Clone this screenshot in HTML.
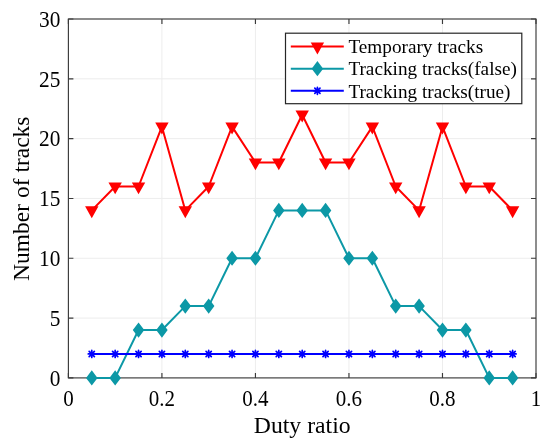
<!DOCTYPE html><html><head><meta charset="utf-8"><style>html,body{margin:0;padding:0;background:#fff;width:550px;height:444px;overflow:hidden}svg{display:block}text{font-family:"Liberation Serif","Times New Roman",serif;fill:#000}</style></head><body>
<svg width="550" height="444" viewBox="0 0 550 444">
<rect width="550" height="444" fill="#fff"/>
<path d="M161.92 19V377.9M255.44 19V377.9M348.96 19V377.9M442.48 19V377.9M68.4 318.08H536M68.4 258.27H536M68.4 198.45H536M68.4 138.63H536M68.4 78.82H536" stroke="#ededed" stroke-width="1" fill="none"/>
<path d="M68.4 377.9v-5M68.4 19v5M161.92 377.9v-5M161.92 19v5M255.44 377.9v-5M255.44 19v5M348.96 377.9v-5M348.96 19v5M442.48 377.9v-5M442.48 19v5M536 377.9v-5M536 19v5M68.4 377.9h5M536 377.9h-5M68.4 318.08h5M536 318.08h-5M68.4 258.27h5M536 258.27h-5M68.4 198.45h5M536 198.45h-5M68.4 138.63h5M536 138.63h-5M68.4 78.82h5M536 78.82h-5M68.4 19h5M536 19h-5" stroke="#3a3a3a" stroke-width="1.15" fill="none"/>
<rect x="68.4" y="19" width="467.6" height="358.9" fill="none" stroke="#3a3a3a" stroke-width="1.15"/>
<polyline points="91.78,377.9 115.16,377.9 138.54,330.05 161.92,330.05 185.3,306.12 208.68,306.12 232.06,258.27 255.44,258.27 278.82,210.41 302.2,210.41 325.58,210.41 348.96,258.27 372.34,258.27 395.72,306.12 419.1,306.12 442.48,330.05 465.86,330.05 489.24,377.9 512.62,377.9" fill="none" stroke="#0c98a6" stroke-width="2.0" stroke-linejoin="round"/>
<polyline points="91.78,353.97 115.16,353.97 138.54,353.97 161.92,353.97 185.3,353.97 208.68,353.97 232.06,353.97 255.44,353.97 278.82,353.97 302.2,353.97 325.58,353.97 348.96,353.97 372.34,353.97 395.72,353.97 419.1,353.97 442.48,353.97 465.86,353.97 489.24,353.97 512.62,353.97" fill="none" stroke="#0000ff" stroke-width="2.0" stroke-linejoin="round"/>
<polyline points="91.78,210.41 115.16,186.49 138.54,186.49 161.92,126.67 185.3,210.41 208.68,186.49 232.06,126.67 255.44,162.56 278.82,162.56 302.2,114.71 325.58,162.56 348.96,162.56 372.34,126.67 395.72,186.49 419.1,210.41 442.48,126.67 465.86,186.49 489.24,186.49 512.62,210.41" fill="none" stroke="#ff0000" stroke-width="2.0" stroke-linejoin="round"/>
<path d="M91.78 370.3L97.53 377.9L91.78 385.5L86.03 377.9ZM115.16 370.3L120.91 377.9L115.16 385.5L109.41 377.9ZM138.54 322.45L144.29 330.05L138.54 337.65L132.79 330.05ZM161.92 322.45L167.67 330.05L161.92 337.65L156.17 330.05ZM185.3 298.52L191.05 306.12L185.3 313.72L179.55 306.12ZM208.68 298.52L214.43 306.12L208.68 313.72L202.93 306.12ZM232.06 250.67L237.81 258.27L232.06 265.87L226.31 258.27ZM255.44 250.67L261.19 258.27L255.44 265.87L249.69 258.27ZM278.82 202.81L284.57 210.41L278.82 218.01L273.07 210.41ZM302.2 202.81L307.95 210.41L302.2 218.01L296.45 210.41ZM325.58 202.81L331.33 210.41L325.58 218.01L319.83 210.41ZM348.96 250.67L354.71 258.27L348.96 265.87L343.21 258.27ZM372.34 250.67L378.09 258.27L372.34 265.87L366.59 258.27ZM395.72 298.52L401.47 306.12L395.72 313.72L389.97 306.12ZM419.1 298.52L424.85 306.12L419.1 313.72L413.35 306.12ZM442.48 322.45L448.23 330.05L442.48 337.65L436.73 330.05ZM465.86 322.45L471.61 330.05L465.86 337.65L460.11 330.05ZM489.24 370.3L494.99 377.9L489.24 385.5L483.49 377.9ZM512.62 370.3L518.37 377.9L512.62 385.5L506.87 377.9Z" fill="#0c98a6"/>
<path d="M91.78 350.47V357.47M88.28 353.97H95.28M89.18 351.37L94.38 356.57M89.18 356.57L94.38 351.37M115.16 350.47V357.47M111.66 353.97H118.66M112.56 351.37L117.76 356.57M112.56 356.57L117.76 351.37M138.54 350.47V357.47M135.04 353.97H142.04M135.94 351.37L141.14 356.57M135.94 356.57L141.14 351.37M161.92 350.47V357.47M158.42 353.97H165.42M159.32 351.37L164.52 356.57M159.32 356.57L164.52 351.37M185.3 350.47V357.47M181.8 353.97H188.8M182.7 351.37L187.9 356.57M182.7 356.57L187.9 351.37M208.68 350.47V357.47M205.18 353.97H212.18M206.08 351.37L211.28 356.57M206.08 356.57L211.28 351.37M232.06 350.47V357.47M228.56 353.97H235.56M229.46 351.37L234.66 356.57M229.46 356.57L234.66 351.37M255.44 350.47V357.47M251.94 353.97H258.94M252.84 351.37L258.04 356.57M252.84 356.57L258.04 351.37M278.82 350.47V357.47M275.32 353.97H282.32M276.22 351.37L281.42 356.57M276.22 356.57L281.42 351.37M302.2 350.47V357.47M298.7 353.97H305.7M299.6 351.37L304.8 356.57M299.6 356.57L304.8 351.37M325.58 350.47V357.47M322.08 353.97H329.08M322.98 351.37L328.18 356.57M322.98 356.57L328.18 351.37M348.96 350.47V357.47M345.46 353.97H352.46M346.36 351.37L351.56 356.57M346.36 356.57L351.56 351.37M372.34 350.47V357.47M368.84 353.97H375.84M369.74 351.37L374.94 356.57M369.74 356.57L374.94 351.37M395.72 350.47V357.47M392.22 353.97H399.22M393.12 351.37L398.32 356.57M393.12 356.57L398.32 351.37M419.1 350.47V357.47M415.6 353.97H422.6M416.5 351.37L421.7 356.57M416.5 356.57L421.7 351.37M442.48 350.47V357.47M438.98 353.97H445.98M439.88 351.37L445.08 356.57M439.88 356.57L445.08 351.37M465.86 350.47V357.47M462.36 353.97H469.36M463.26 351.37L468.46 356.57M463.26 356.57L468.46 351.37M489.24 350.47V357.47M485.74 353.97H492.74M486.64 351.37L491.84 356.57M486.64 356.57L491.84 351.37M512.62 350.47V357.47M509.12 353.97H516.12M510.02 351.37L515.22 356.57M510.02 356.57L515.22 351.37" stroke="#0000ff" stroke-width="1.7" stroke-linecap="round" fill="none"/>
<path d="M85.08 206.31H98.48L91.78 218.21ZM108.46 182.39H121.86L115.16 194.29ZM131.84 182.39H145.24L138.54 194.29ZM155.22 122.57H168.62L161.92 134.47ZM178.6 206.31H192L185.3 218.21ZM201.98 182.39H215.38L208.68 194.29ZM225.36 122.57H238.76L232.06 134.47ZM248.74 158.46H262.14L255.44 170.36ZM272.12 158.46H285.52L278.82 170.36ZM295.5 110.61H308.9L302.2 122.51ZM318.88 158.46H332.28L325.58 170.36ZM342.26 158.46H355.66L348.96 170.36ZM365.64 122.57H379.04L372.34 134.47ZM389.02 182.39H402.42L395.72 194.29ZM412.4 206.31H425.8L419.1 218.21ZM435.78 122.57H449.18L442.48 134.47ZM459.16 182.39H472.56L465.86 194.29ZM482.54 182.39H495.94L489.24 194.29ZM505.92 206.31H519.32L512.62 218.21Z" fill="#ff0000"/>
<text transform="translate(68.4 405.7) scale(0.955 1.02)" font-size="22" text-anchor="middle">0</text>
<text transform="translate(161.92 405.7) scale(0.955 1.02)" font-size="22" text-anchor="middle">0.2</text>
<text transform="translate(255.44 405.7) scale(0.955 1.02)" font-size="22" text-anchor="middle">0.4</text>
<text transform="translate(348.96 405.7) scale(0.955 1.02)" font-size="22" text-anchor="middle">0.6</text>
<text transform="translate(442.48 405.7) scale(0.955 1.02)" font-size="22" text-anchor="middle">0.8</text>
<text transform="translate(536 405.7) scale(0.955 1.02)" font-size="22" text-anchor="middle">1</text>
<text transform="translate(60.3 385.6) scale(0.97 1.065)" font-size="22" text-anchor="end">0</text>
<text transform="translate(60.3 325.78) scale(0.97 1.065)" font-size="22" text-anchor="end">5</text>
<text transform="translate(60.3 265.97) scale(0.97 1.065)" font-size="22" text-anchor="end">10</text>
<text transform="translate(60.3 206.15) scale(0.97 1.065)" font-size="22" text-anchor="end">15</text>
<text transform="translate(60.3 146.33) scale(0.97 1.065)" font-size="22" text-anchor="end">20</text>
<text transform="translate(60.3 86.52) scale(0.97 1.065)" font-size="22" text-anchor="end">25</text>
<text transform="translate(60.3 26.7) scale(0.97 1.065)" font-size="22" text-anchor="end">30</text>
<text transform="translate(302.2 432.6) scale(1.054 1.034)" font-size="22.5" text-anchor="middle">Duty ratio</text>
<text transform="translate(29.3 198.7) rotate(-90) scale(1.044 1.0)" font-size="22.5" text-anchor="middle">Number of tracks</text>
<rect x="285.5" y="33.2" width="236.3" height="70.5" fill="#fff" stroke="#262626" stroke-width="1.2"/>
<path d="M290.8 46.6H343.8" stroke="#ff0000" stroke-width="2.0"/>
<path d="M310.7 42.5H324.1L317.4 54.4Z" fill="#ff0000"/>
<text transform="translate(348.4 53.35) scale(1.012 1.0)" font-size="19">Temporary tracks</text>
<path d="M290.8 68.7H343.8" stroke="#0c98a6" stroke-width="2.0"/>
<path d="M317.4 61.1L323.15 68.7L317.4 76.3L311.65 68.7Z" fill="#0c98a6"/>
<text transform="translate(348.4 75.45) scale(1.012 1.0)" font-size="19">Tracking tracks(false)</text>
<path d="M290.8 90.8H343.8" stroke="#0000ff" stroke-width="2.0"/>
<path d="M317.4 87.3V94.3M313.9 90.8H320.9M314.8 88.2L320 93.4M314.8 93.4L320 88.2" stroke="#0000ff" stroke-width="1.7" stroke-linecap="round" fill="none"/>
<text transform="translate(348.4 97.55) scale(1.012 1.0)" font-size="19">Tracking tracks(true)</text>
</svg></body></html>
